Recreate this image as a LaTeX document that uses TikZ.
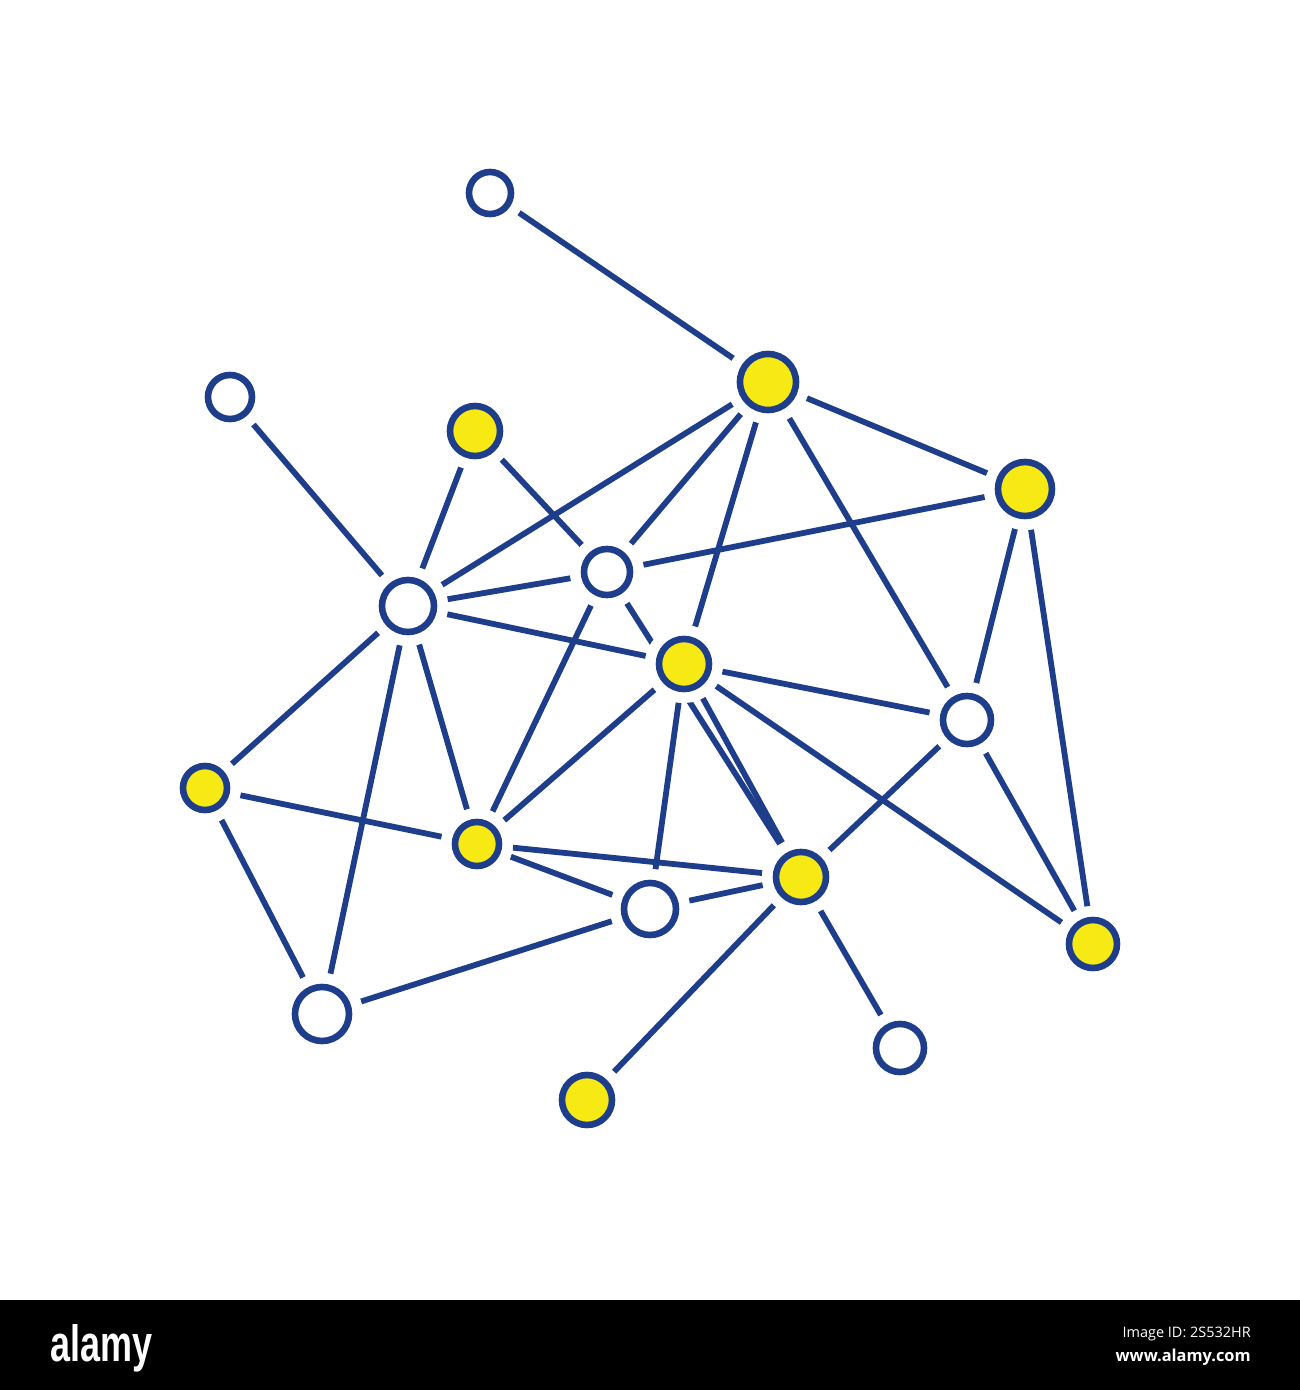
\documentclass[tikz,border=0pt]{standalone}
\usepackage{fontspec}
\usepackage{graphicx}
\setmainfont{Open Sans}
\newfontfamily\logofont{Liberation Sans}
\usetikzlibrary{backgrounds}

\definecolor{netblue}{RGB}{30,62,140}
\definecolor{netyellow}{RGB}{247,233,20}

\tikzset{
  dot/.style={circle, draw=netblue, line width=0.066cm, inner sep=0pt, outer sep=0.14cm,
    preaction={draw=white, line width=0.28cm}},
  wdot/.style={dot, fill=white},
  ydot/.style={dot, fill=netyellow},
  link/.style={draw=netblue, line width=0.058cm}
}

\begin{document}
\begin{tikzpicture}
\useasboundingbox (0,0) rectangle (13,13.9);

% nodes
\node[wdot, minimum size=0.42cm] (n1) at (4.90,11.97) {};
\node[ydot, minimum size=0.56cm] (n2) at (7.68,10.08) {};
\node[wdot, minimum size=0.44cm] (n3) at (2.30,9.93) {};
\node[ydot, minimum size=0.50cm] (n4) at (4.75,9.59) {};
\node[ydot, minimum size=0.54cm] (n5) at (10.25,9.01) {};
\node[wdot, minimum size=0.46cm] (n6) at (6.07,8.18) {};
\node[wdot, minimum size=0.52cm] (n7) at (4.08,7.84) {};
\node[ydot, minimum size=0.50cm] (n8) at (6.84,7.26) {};
\node[wdot, minimum size=0.48cm] (n9) at (9.67,6.70) {};
\node[ydot, minimum size=0.44cm] (n10) at (2.05,6.02) {};
\node[ydot, minimum size=0.44cm] (n11) at (4.77,5.46) {};
\node[ydot, minimum size=0.50cm] (n12) at (8.01,5.13) {};
\node[wdot, minimum size=0.52cm] (n13) at (6.50,4.81) {};
\node[ydot, minimum size=0.48cm] (n14) at (10.93,4.46) {};
\node[wdot, minimum size=0.54cm] (n15) at (3.22,3.76) {};
\node[wdot, minimum size=0.48cm] (n16) at (9.00,3.42) {};
\node[ydot, minimum size=0.50cm] (n17) at (5.87,2.90) {};

% links
\begin{scope}[on background layer]
\fill[white] (0,0) rectangle (13,13.9);
\foreach \a/\b in {1/2, 2/5, 2/7, 2/6, 2/8, 2/9, 3/7, 4/7, 4/6, 6/5, 6/7, 7/8,
                   6/11, 6/12, 7/10, 7/15, 7/11, 8/9, 8/14, 8/11, 8/13, 8/12,
                   5/9, 5/14, 9/14, 9/12, 10/11, 10/15, 11/12, 11/13, 13/12,
                   13/15, 12/17, 12/16}
  \draw[link] (n\a) -- (n\b);
\end{scope}

% banner
\fill[black] (0,0) rectangle (13,0.90);
\node[anchor=base west, inner sep=0pt, text=white] (logo) at (0.50,0.28)
  {\resizebox{1.02cm}{0.37cm}{\logofont\bfseries alamy}};
\node[anchor=base west, inner sep=0pt, text=white] (imgid) at (11.22,0.53)
  {\resizebox{1.28cm}{!}{Image ID: 2S532HR}};
\node[anchor=base west, inner sep=0pt, text=white] (site) at (11.15,0.28)
  {\resizebox{1.35cm}{!}{\bfseries www.alamy.com}};
\end{tikzpicture}
\end{document}
